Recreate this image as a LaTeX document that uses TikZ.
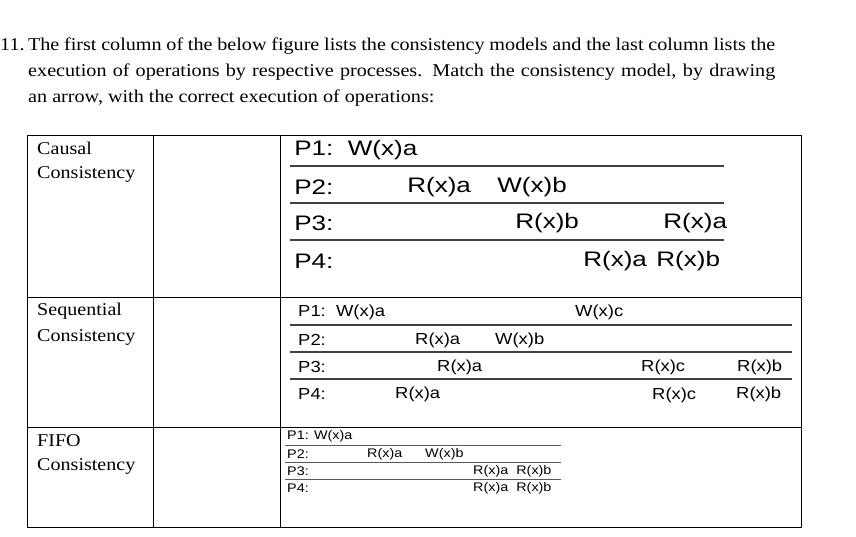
\documentclass[tikz,border=0pt]{standalone}
\usepackage{fontspec}
\setmainfont{Liberation Serif}
\newfontfamily\ar{Liberation Sans}
\begin{document}
\begin{tikzpicture}[x=1pt,y=-1pt,
  t/.style={anchor=west,inner sep=0pt,xscale=1.15},
  big/.style={t,xscale=1.08,font=\ar\fontsize{21}{21}\selectfont},
  mid/.style={t,font=\ar\fontsize{16}{16}\selectfont},
  sml/.style={t,font=\ar\fontsize{12.5}{12.5}\selectfont},
  lab/.style={t,xscale=0.97,font=\fontsize{18}{18}\selectfont},
  rl/.style={line width=1.3pt,black!75}]
\useasboundingbox (0,0) rectangle (856,537);
\node[anchor=north west,inner sep=0pt,xscale=1.12,text width=692pt,align=justify,font=\fontsize{18}{26}\selectfont] (title) at (0,38)
{\leavevmode\hangindent=25pt\hangafter=1 11.\,The first column of the below figure lists the consistency models and the last column lists the execution of operations by respective processes. Match the consistency model, by drawing an arrow, with the correct execution of operations:\par};
% table
\draw[line width=0.8pt] (27,135) rectangle (801,527);
\draw[line width=0.8pt] (153,135) -- (153,527) (280,135) -- (280,527)
  (27,297) -- (801,297) (27,427) -- (801,427);
\node[lab] (c1) at (37,148) {Causal};
\node[lab] (c2) at (37,174) {Consistency};
\node[lab] (s1) at (37,311) {Sequential};
\node[lab] (s2) at (37,337) {Consistency};
\node[lab] (f1) at (37,441) {FIFO};
\node[lab] (f2) at (37,466) {Consistency};
% top panel
\draw[rl] (290,166) -- (724,166) (290,203) -- (724,203) (290,240) -- (724,240);
\node[big] (a1) at (294,150) {P1:\ \ W(x)a};
\node[big] (a2) at (294,187) {P2:};
\node[big] (a3) at (407,187) {R(x)a};
\node[big] (a4) at (497,187) {W(x)b};
\node[big] (a5) at (294,223) {P3:};
\node[big] (a6) at (515,223) {R(x)b};
\node[big] (a7) at (663,223) {R(x)a};
\node[big] (a8) at (294,261) {P4:};
\node[big] (a9) at (583,261) {R(x)a};
\node[big] (a10) at (656,261) {R(x)b};
% middle panel
\draw[rl] (290,325) -- (792,325) (290,352) -- (792,352) (290,379) -- (792,379);
\node[mid] (b1) at (298,312) {P1:\ \ W(x)a};
\node[mid] (b2) at (575,312) {W(x)c};
\node[mid] (b3) at (298,340) {P2:};
\node[mid] (b4) at (415,340) {R(x)a};
\node[mid] (b5) at (495,340) {W(x)b};
\node[mid] (b6) at (298,367) {P3:};
\node[mid] (b7) at (437,367) {R(x)a};
\node[mid] (b8) at (641,367) {R(x)c};
\node[mid] (b9) at (737,367) {R(x)b};
\node[mid] (b10) at (298,394) {P4:};
\node[mid] (b11) at (395,394) {R(x)a};
\node[mid] (b12) at (652,395) {R(x)c};
\node[mid] (b13) at (736,394) {R(x)b};
% bottom panel
\draw[black!65,line width=1pt] (285,445) -- (561,445) (285,462) -- (561,462) (285,479) -- (561,479);
\node[sml] (d1) at (287,436) {P1: W(x)a};
\node[sml] (d2) at (287,454) {P2:};
\node[sml] (d3) at (367,454) {R(x)a};
\node[sml] (d4) at (425,454) {W(x)b};
\node[sml] (d5) at (287,471) {P3:};
\node[sml] (d6) at (473,471) {R(x)a\ \ R(x)b};
\node[sml] (d7) at (287,488) {P4:};
\node[sml] (d8) at (473,488) {R(x)a\ \ R(x)b};
\end{tikzpicture}
\end{document}
